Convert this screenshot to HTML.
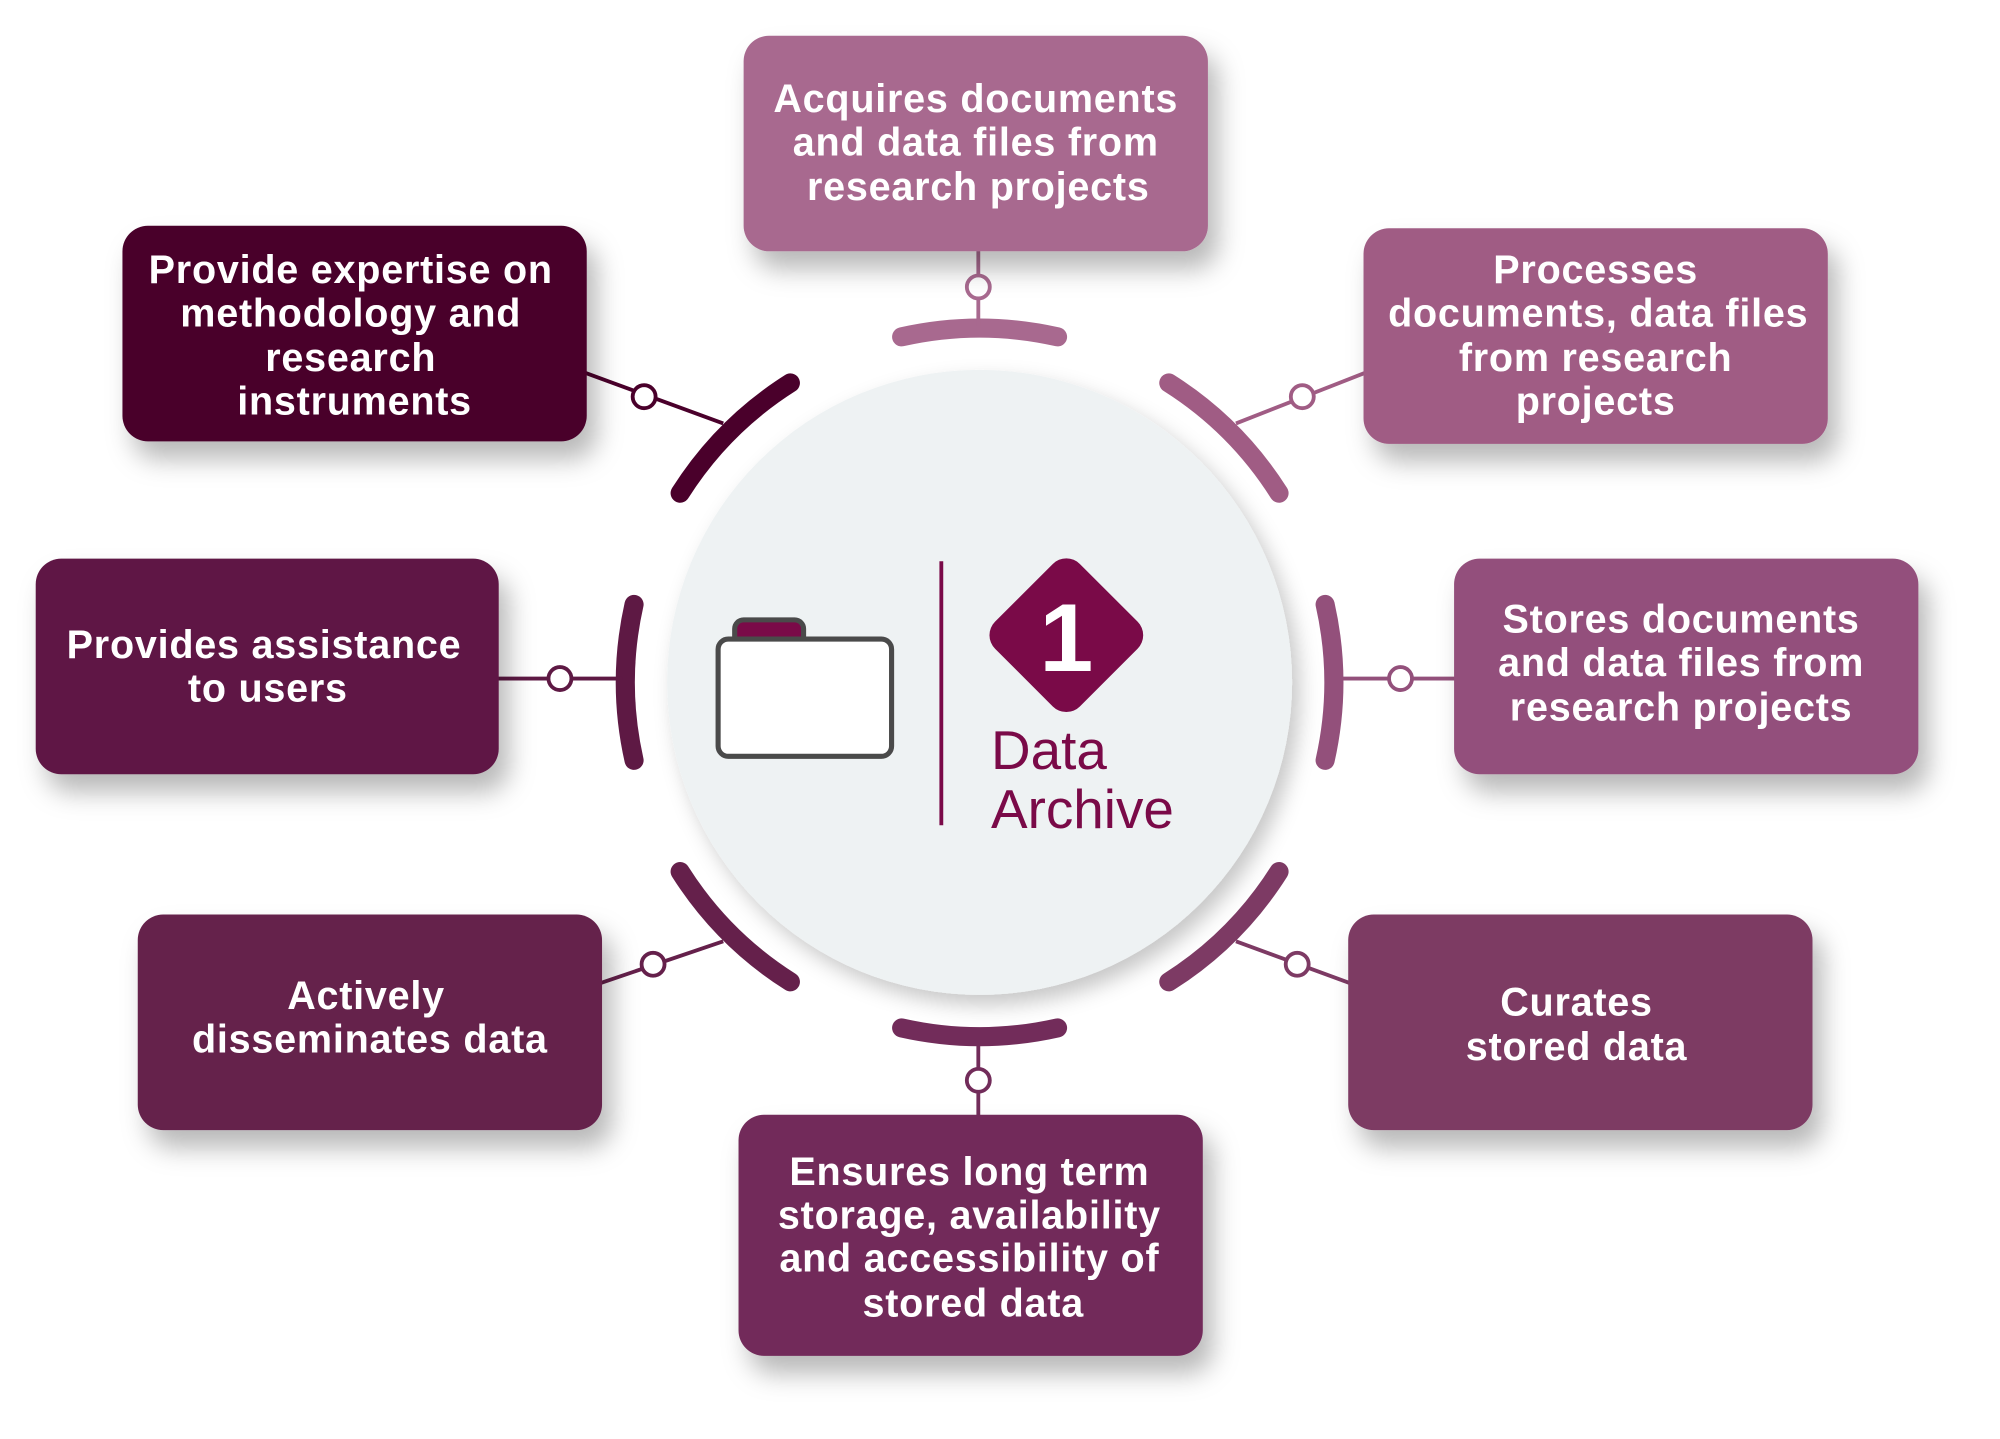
<!DOCTYPE html>
<html><head><meta charset="utf-8"><style>
html,body{margin:0;padding:0;background:#fff;}
svg{display:block;}
text{font-family:"Liberation Sans",sans-serif;}
.b{font-weight:bold;font-size:31px;letter-spacing:0.6px;fill:#fff;text-anchor:middle;}
</style></head><body>
<svg width="2000" height="1439" viewBox="0 0 1568 1128.2" preserveAspectRatio="none" xmlns="http://www.w3.org/2000/svg">
<defs>
<filter id="sh" x="-20%" y="-20%" width="150%" height="160%"><feDropShadow dx="8" dy="14" stdDeviation="10" flood-color="#000" flood-opacity="0.28"/></filter>
<filter id="cs" x="-20%" y="-20%" width="150%" height="150%"><feDropShadow dx="6" dy="8" stdDeviation="8" flood-color="#000" flood-opacity="0.22"/></filter>
</defs>
<circle cx="768" cy="535" r="245" fill="#eef2f3" filter="url(#cs)"/>
<g fill="none" stroke-width="15" stroke-linecap="round">
<path d="M 706.9 264.1 A 278 278 0 0 1 829.1 264.1" stroke="#a8698f" transform="rotate(0 768 535)"/>
<path d="M 706.9 264.1 A 278 278 0 0 1 829.1 264.1" stroke="#a05c84" transform="rotate(45 768 535)"/>
<path d="M 706.9 264.1 A 278 278 0 0 1 829.1 264.1" stroke="#93507b" transform="rotate(90 768 535)"/>
<path d="M 706.9 264.1 A 278 278 0 0 1 829.1 264.1" stroke="#7d3a64" transform="rotate(135 768 535)"/>
<path d="M 706.9 264.1 A 278 278 0 0 1 829.1 264.1" stroke="#722c5a" transform="rotate(180 768 535)"/>
<path d="M 706.9 264.1 A 278 278 0 0 1 829.1 264.1" stroke="#65204b" transform="rotate(225 768 535)"/>
<path d="M 706.9 264.1 A 278 278 0 0 1 829.1 264.1" stroke="#5e1944" transform="rotate(270 768 535)"/>
<path d="M 706.9 264.1 A 278 278 0 0 1 829.1 264.1" stroke="#4a002b" transform="rotate(315 768 535)"/>
</g>
<g stroke-width="3" fill="#fff">
<line x1="767" y1="256" x2="767" y2="195" stroke="#a8698f"/><circle cx="767" cy="225" r="9" stroke="#a8698f"/>
<line x1="567" y1="332" x2="458" y2="292" stroke="#4a002b"/><circle cx="505" cy="311" r="9" stroke="#4a002b"/>
<line x1="969" y1="332" x2="1071" y2="292" stroke="#a05c84"/><circle cx="1021" cy="311" r="9" stroke="#a05c84"/>
<line x1="488" y1="532" x2="389" y2="532" stroke="#5e1944"/><circle cx="439" cy="532" r="9" stroke="#5e1944"/>
<line x1="1048" y1="532" x2="1142" y2="532" stroke="#93507b"/><circle cx="1098" cy="532" r="9" stroke="#93507b"/>
<line x1="567" y1="738" x2="470" y2="771" stroke="#65204b"/><circle cx="512" cy="756" r="9" stroke="#65204b"/>
<line x1="969" y1="738" x2="1059" y2="771" stroke="#7d3a64"/><circle cx="1017" cy="756" r="9" stroke="#7d3a64"/>
<line x1="767" y1="815" x2="767" y2="876" stroke="#722c5a"/><circle cx="767" cy="847" r="9" stroke="#722c5a"/>
</g>
<g filter="url(#sh)">
<rect x="583" y="28" width="364" height="169" rx="20" fill="#a8698f"/>
<rect x="96" y="177" width="364" height="169" rx="20" fill="#4a002b"/>
<rect x="1069" y="179" width="364" height="169" rx="20" fill="#a05c84"/>
<rect x="28" y="438" width="363" height="169" rx="20" fill="#5e1944"/>
<rect x="1140" y="438" width="364" height="169" rx="20" fill="#93507b"/>
<rect x="108" y="717" width="364" height="169" rx="20" fill="#65204b"/>
<rect x="1057" y="717" width="364" height="169" rx="20" fill="#7d3a64"/>
<rect x="579" y="874" width="364" height="189" rx="20" fill="#722c5a"/>
</g>
<text class="b"><tspan x="765" y="88">Acquires documents</tspan><tspan x="765" y="122">and data files from</tspan><tspan x="767" y="157">research projects</tspan></text>
<text class="b"><tspan x="275" y="222">Provide expertise on</tspan><tspan x="275" y="256">methodology and</tspan><tspan x="275" y="291">research</tspan><tspan x="278" y="325">instruments</tspan></text>
<text class="b"><tspan x="1251" y="222">Processes</tspan><tspan x="1253" y="256">documents, data files</tspan><tspan x="1251" y="291">from research</tspan><tspan x="1251" y="325">projects</tspan></text>
<text class="b"><tspan x="207" y="516">Provides assistance</tspan><tspan x="210" y="550">to users</tspan></text>
<text class="b"><tspan x="1318" y="496">Stores documents</tspan><tspan x="1318" y="530">and data files from</tspan><tspan x="1318" y="565">research projects</tspan></text>
<text class="b"><tspan x="287" y="791">Actively</tspan><tspan x="290" y="825">disseminates data</tspan></text>
<text class="b"><tspan x="1236" y="796">Curates</tspan><tspan x="1236" y="831">stored data</tspan></text>
<text class="b"><tspan x="760" y="929">Ensures long term</tspan><tspan x="760" y="963">storage, availability</tspan><tspan x="760" y="997">and accessibility of</tspan><tspan x="763" y="1032">stored data</tspan></text>
<rect x="576" y="486" width="54" height="22" rx="7" fill="#7a0a48" stroke="#4a4a4a" stroke-width="4"/>
<rect x="563" y="501" width="136" height="92" rx="8" fill="#fff" stroke="#4a4a4a" stroke-width="4"/>
<line x1="738" y1="440" x2="738" y2="647" stroke="#7a0a48" stroke-width="3"/>
<rect x="789" y="451" width="94" height="94" rx="15" fill="#7a0a48" transform="rotate(45 836 498)"/>
<text x="836" y="526" text-anchor="middle" font-weight="bold" font-size="76" fill="#fff">1</text>
<text x="777" y="603" font-size="43" fill="#7a0a48">Data</text>
<text x="777" y="649" font-size="43" fill="#7a0a48">Archive</text>
</svg>
</body></html>
